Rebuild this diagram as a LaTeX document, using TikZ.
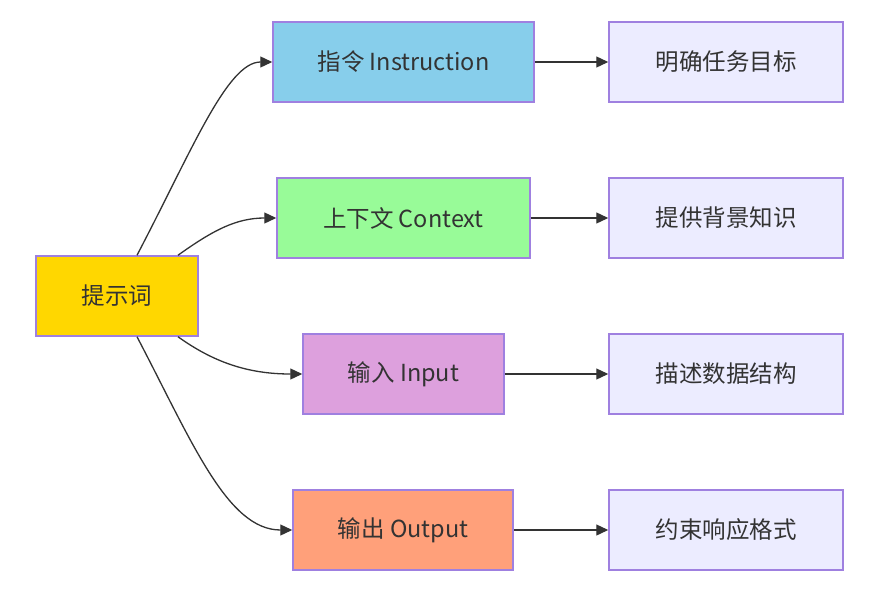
\documentclass[tikz,border=0pt]{standalone}
\usepackage{fontspec}
\setmainfont{Noto Sans CJK SC}
\usetikzlibrary{arrows.meta}
\definecolor{edge}{HTML}{333333}
\definecolor{border}{HTML}{9F80E0}
\definecolor{rootfill}{HTML}{FFD700}
\definecolor{insfill}{HTML}{87CEEB}
\definecolor{ctxfill}{HTML}{98FB98}
\definecolor{inpfill}{HTML}{DDA0DD}
\definecolor{outfill}{HTML}{FFA07A}
\definecolor{leaffill}{HTML}{ECECFF}
\tikzset{
	box/.style={draw=border, line width=1.5pt, minimum height=80pt, inner sep=0pt, text=edge, font=\fontsize{23.5}{28}\selectfont},
	leaf/.style={box, fill=leaffill, minimum width=234pt},
	link/.style={draw=edge, line width=1.3pt, -{Triangle[length=12pt,width=11pt]}}
}
\begin{document}
\begin{tikzpicture}[x=1pt,y=-1pt]
		\useasboundingbox (0,0) rectangle (889,592);
		\node[box, fill=rootfill, minimum width=162pt] (root) at (117,296) {提示词};
		\node[box, fill=insfill, minimum width=261pt] (ins) at (403.5,62) {指令 Instruction};
		\node[box, fill=ctxfill, minimum width=253pt] (ctx) at (403.5,218) {上下文 Context};
		\node[box, fill=inpfill, minimum width=201pt] (inp) at (403.5,374) {输入 Input};
		\node[box, fill=outfill, minimum width=220pt] (out) at (403,530) {输出 Output};
		\node[leaf] (insgoal) at (726,62) {明确任务目标};
		\node[leaf] (ctxgoal) at (726,218) {提供背景知识};
		\node[leaf] (inpgoal) at (726,374) {描述数据结构};
		\node[leaf] (outgoal) at (726,530) {约束响应格式};
		\draw[link] ([xshift=20pt]root.north) .. controls +(55,-105) and +(-45,0) .. (ins.west);
		\draw[link] ([xshift=61pt]root.north) .. controls +(35,-25) and +(-40,0) .. (ctx.west);
		\draw[link] ([xshift=61pt]root.south) .. controls +(35,25) and +(-55,0) .. (inp.west);
		\draw[link] ([xshift=20pt]root.south) .. controls +(55,105) and +(-65,0) .. (out.west);
		\draw[link] (ins) -- (insgoal);
		\draw[link] (ctx) -- (ctxgoal);
		\draw[link] (inp) -- (inpgoal);
		\draw[link] (out) -- (outgoal);
	\end{tikzpicture}
\end{document}
